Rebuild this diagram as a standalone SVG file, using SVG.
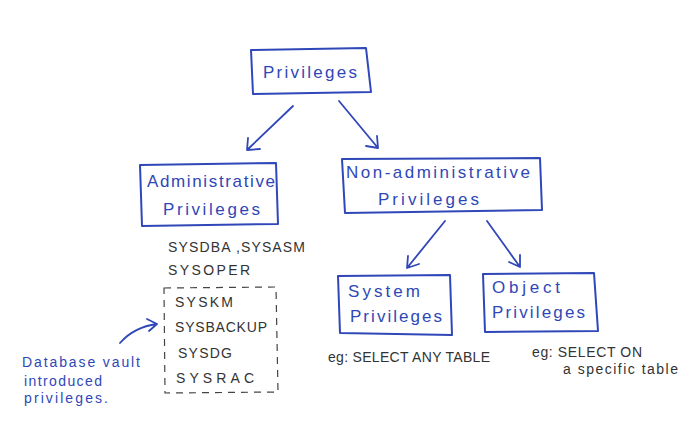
<svg xmlns="http://www.w3.org/2000/svg" width="685" height="433" viewBox="0 0 685 433">
<style>
.box{fill:none;stroke:#2f47b8;stroke-width:2;stroke-linejoin:round}
.dash{fill:none;stroke:#444;stroke-width:1.2;stroke-dasharray:7 6}
.edge{fill:none;stroke:#2f47b8;stroke-width:1.8;stroke-linecap:round}
.t{font-family:"Liberation Sans",Arial,sans-serif;fill:#2f47b8;font-size:17px}
.k{font-family:"Liberation Sans",Arial,sans-serif;fill:#333;font-size:14px}
.b{font-family:"Liberation Sans",Arial,sans-serif;fill:#2f47b8;font-size:14px}
</style>
<rect width="685" height="433" fill="#fff"/>
<g id="privileges">
<path class="box" d="M251 50 L366 48 L371 92 L253 94 Z"/>
<text class="t" x="263" y="78" textLength="94" lengthAdjust="spacing">Privileges</text>
</g>
<g id="administrative">
<path class="box" d="M140 165 L276 163 L278 224 L142 226 Z"/>
<text class="t" x="147" y="187" textLength="128" lengthAdjust="spacing">Administrative</text>
<text class="t" x="163" y="215" textLength="97" lengthAdjust="spacing">Privileges</text>
</g>
<g id="nonadministrative">
<path class="box" d="M342 159 L540 158 L542 210 L345 213 Z"/>
<text class="t" x="346" y="178" textLength="184" lengthAdjust="spacing">Non-administrative</text>
<text class="t" x="378" y="205" textLength="101" lengthAdjust="spacing">Privileges</text>
</g>
<g id="system">
<path class="box" d="M338 276 L450 275 L452 335 L340 333 Z"/>
<text class="t" x="348" y="297" textLength="72" lengthAdjust="spacing">System</text>
<text class="t" x="350" y="322" textLength="92" lengthAdjust="spacing">Privileges</text>
</g>
<g id="object">
<path class="box" d="M483 274 L594 273 L598 331 L485 332 Z"/>
<text class="t" x="492" y="293" textLength="68" lengthAdjust="spacing">Object</text>
<text class="t" x="492" y="318" textLength="93" lengthAdjust="spacing">Privileges</text>
</g>
<g id="admin-list">
<text class="k" x="168" y="252" textLength="137" lengthAdjust="spacing">SYSDBA ,SYSASM</text>
<text class="k" x="168" y="275" textLength="82" lengthAdjust="spacing">SYSOPER</text>
</g>
<g id="vault-privileges">
<path class="dash" d="M164 288 L276 287 L278 392 L165 393 Z"/>
<text class="k" x="175" y="307" textLength="58" lengthAdjust="spacing">SYSKM</text>
<text class="k" x="175" y="332" textLength="92" lengthAdjust="spacing">SYSBACKUP</text>
<text class="k" x="178" y="358" textLength="54" lengthAdjust="spacing">SYSDG</text>
<text class="k" x="176" y="383" textLength="78" lengthAdjust="spacing">SYSRAC</text>
</g>
<g id="vault-note">
<text class="b" x="22" y="367" textLength="118" lengthAdjust="spacing">Database vault</text>
<text class="b" x="24" y="386" textLength="78" lengthAdjust="spacing">introduced</text>
<text class="b" x="24" y="403" textLength="84" lengthAdjust="spacing">privileges.</text>
</g>
<g id="examples">
<text class="k" x="328" y="362" textLength="162" lengthAdjust="spacing">eg: SELECT ANY TABLE</text>
<text class="k" x="532" y="357" textLength="110" lengthAdjust="spacing">eg: SELECT ON</text>
<text class="k" x="563" y="374" textLength="115" lengthAdjust="spacing">a specific table</text>
</g>
<g id="connectors">
<path class="edge" d="M293 106 L247 150 M247 150 L248 138 M247 150 L260 149"/>
<path class="edge" d="M339 101 L378 148 M378 148 L366 146 M378 148 L377 136"/>
<path class="edge" d="M445 221 L407 268 M407 268 L408 256 M407 268 L419 264"/>
<path class="edge" d="M487 221 L520 267 M520 267 L509 262 M520 267 L520 255"/>
<path class="edge" d="M120 343 Q134 327 157 324 M157 324 L147 319 M157 324 L149 331"/>
</g>
</svg>
